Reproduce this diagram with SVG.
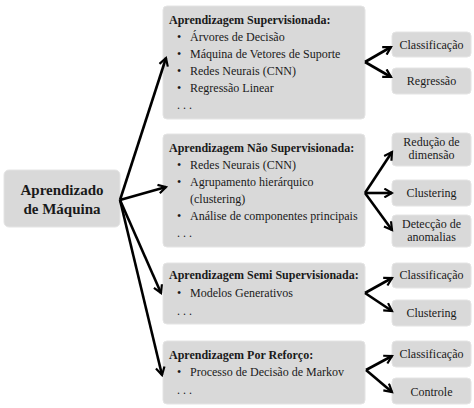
<svg xmlns="http://www.w3.org/2000/svg" width="474" height="408" viewBox="0 0 474 408">
<defs>
<style>
.box{fill:#d9d9d9;stroke:#e4e4e4;stroke-width:1}
.t{font-family:"Liberation Serif","Times New Roman",serif;font-size:12px;fill:#1a1a1a}
.b{font-weight:bold}
.c{text-anchor:middle}
.main{font-family:"Liberation Serif","Times New Roman",serif;font-size:15px;font-weight:bold;fill:#1a1a1a;text-anchor:middle}
.arr{stroke:#000;stroke-width:2.6;fill:none;marker-end:url(#ah)}
</style>
<marker id="ah" viewBox="0 0 10 10" refX="8" refY="5" markerWidth="4.2" markerHeight="4.2" orient="auto" markerUnits="strokeWidth">
<path d="M1,1 L8,5 L1,9" fill="none" stroke="#000" stroke-width="2"/>
</marker>
</defs>
<rect width="474" height="408" fill="#fff"/>
<g id="main">
<rect class="box" x="4" y="170" width="116" height="57" rx="5"/>
<text class="main" x="62" y="195">Aprendizado</text>
<text class="main" x="62" y="214">de Máquina</text>
</g>
<g id="sup">
<rect class="box" x="163" y="6" width="202" height="113" rx="4"/>
<text class="t b" x="169" y="24">Aprendizagem Supervisionada:</text>
<g class="t">
<text x="177" y="41">•</text><text x="190" y="41">Árvores de Decisão</text>
<text x="177" y="58">•</text><text x="190" y="58">Máquina de Vetores de Suporte</text>
<text x="177" y="75">•</text><text x="190" y="75">Redes Neurais (CNN)</text>
<text x="177" y="92">•</text><text x="190" y="92">Regressão Linear</text>
<text x="177" y="109">. . .</text>
</g>
</g>
<g id="naosup">
<rect class="box" x="163" y="134" width="202" height="113" rx="4"/>
<text class="t b" x="169" y="152">Aprendizagem Não Supervisionada:</text>
<g class="t">
<text x="177" y="169">•</text><text x="190" y="169">Redes Neurais (CNN)</text>
<text x="177" y="186">•</text><text x="190" y="186">Agrupamento hierárquico</text>
<text x="190" y="203">(clustering)</text>
<text x="177" y="220">•</text><text x="190" y="220">Análise de componentes principais</text>
<text x="177" y="237">. . .</text>
</g>
</g>
<g id="semi">
<rect class="box" x="163" y="263" width="202" height="61" rx="4"/>
<text class="t b" x="169" y="279">Aprendizagem Semi Supervisionada:</text>
<g class="t">
<text x="177" y="297">•</text><text x="190" y="297">Modelos Generativos</text>
<text x="177" y="315">. . .</text>
</g>
</g>
<g id="reforco">
<rect class="box" x="163" y="341" width="202" height="63" rx="4"/>
<text class="t b" x="169" y="359">Aprendizagem Por Reforço:</text>
<g class="t">
<text x="177" y="376">•</text><text x="190" y="376">Processo de Decisão de Markov</text>
<text x="177" y="394">. . .</text>
</g>
</g>
<g id="r1a"><rect class="box" x="392" y="32" width="79" height="25" rx="4"/><text class="t c" x="431.5" y="49">Classificação</text></g>
<g id="r1b"><rect class="box" x="392" y="68" width="79" height="26" rx="4"/><text class="t c" x="431.5" y="85">Regressão</text></g>
<g id="r2a"><rect class="box" x="392" y="133" width="79" height="33" rx="4"/><text class="t c" x="431.5" y="146">Redução de</text><text class="t c" x="431.5" y="159">dimensão</text></g>
<g id="r2b"><rect class="box" x="392" y="180" width="79" height="26" rx="4"/><text class="t c" x="431.5" y="197">Clustering</text></g>
<g id="r2c"><rect class="box" x="392" y="215" width="79" height="32" rx="4"/><text class="t c" x="431.5" y="228">Detecção de</text><text class="t c" x="431.5" y="241">anomalias</text></g>
<g id="r3a"><rect class="box" x="392" y="263" width="79" height="25" rx="4"/><text class="t c" x="431.5" y="279">Classificação</text></g>
<g id="r3b"><rect class="box" x="392" y="300" width="79" height="26" rx="4"/><text class="t c" x="431.5" y="317">Clustering</text></g>
<g id="r4a"><rect class="box" x="392" y="341" width="79" height="26" rx="4"/><text class="t c" x="431.5" y="358">Classificação</text></g>
<g id="r4b"><rect class="box" x="392" y="378" width="79" height="26" rx="4"/><text class="t c" x="431.5" y="396">Controle</text></g>
<g id="connectors">
<path class="arr" d="M120,200 L166,58"/>
<path class="arr" d="M120,200 L166,187"/>
<path class="arr" d="M120,200 L161,293"/>
<path class="arr" d="M120,200 L162,375"/>
<path class="arr" d="M365,62 L391,47"/>
<path class="arr" d="M365,62 L391,77"/>
<path class="arr" d="M365,193 L392,152"/>
<path class="arr" d="M365,193 L392,193"/>
<path class="arr" d="M365,193 L392,230"/>
<path class="arr" d="M365,293 L392,278"/>
<path class="arr" d="M365,293 L392,311"/>
<path class="arr" d="M366,370 L392,356"/>
<path class="arr" d="M366,370 L392,392"/>
</g>
</svg>
